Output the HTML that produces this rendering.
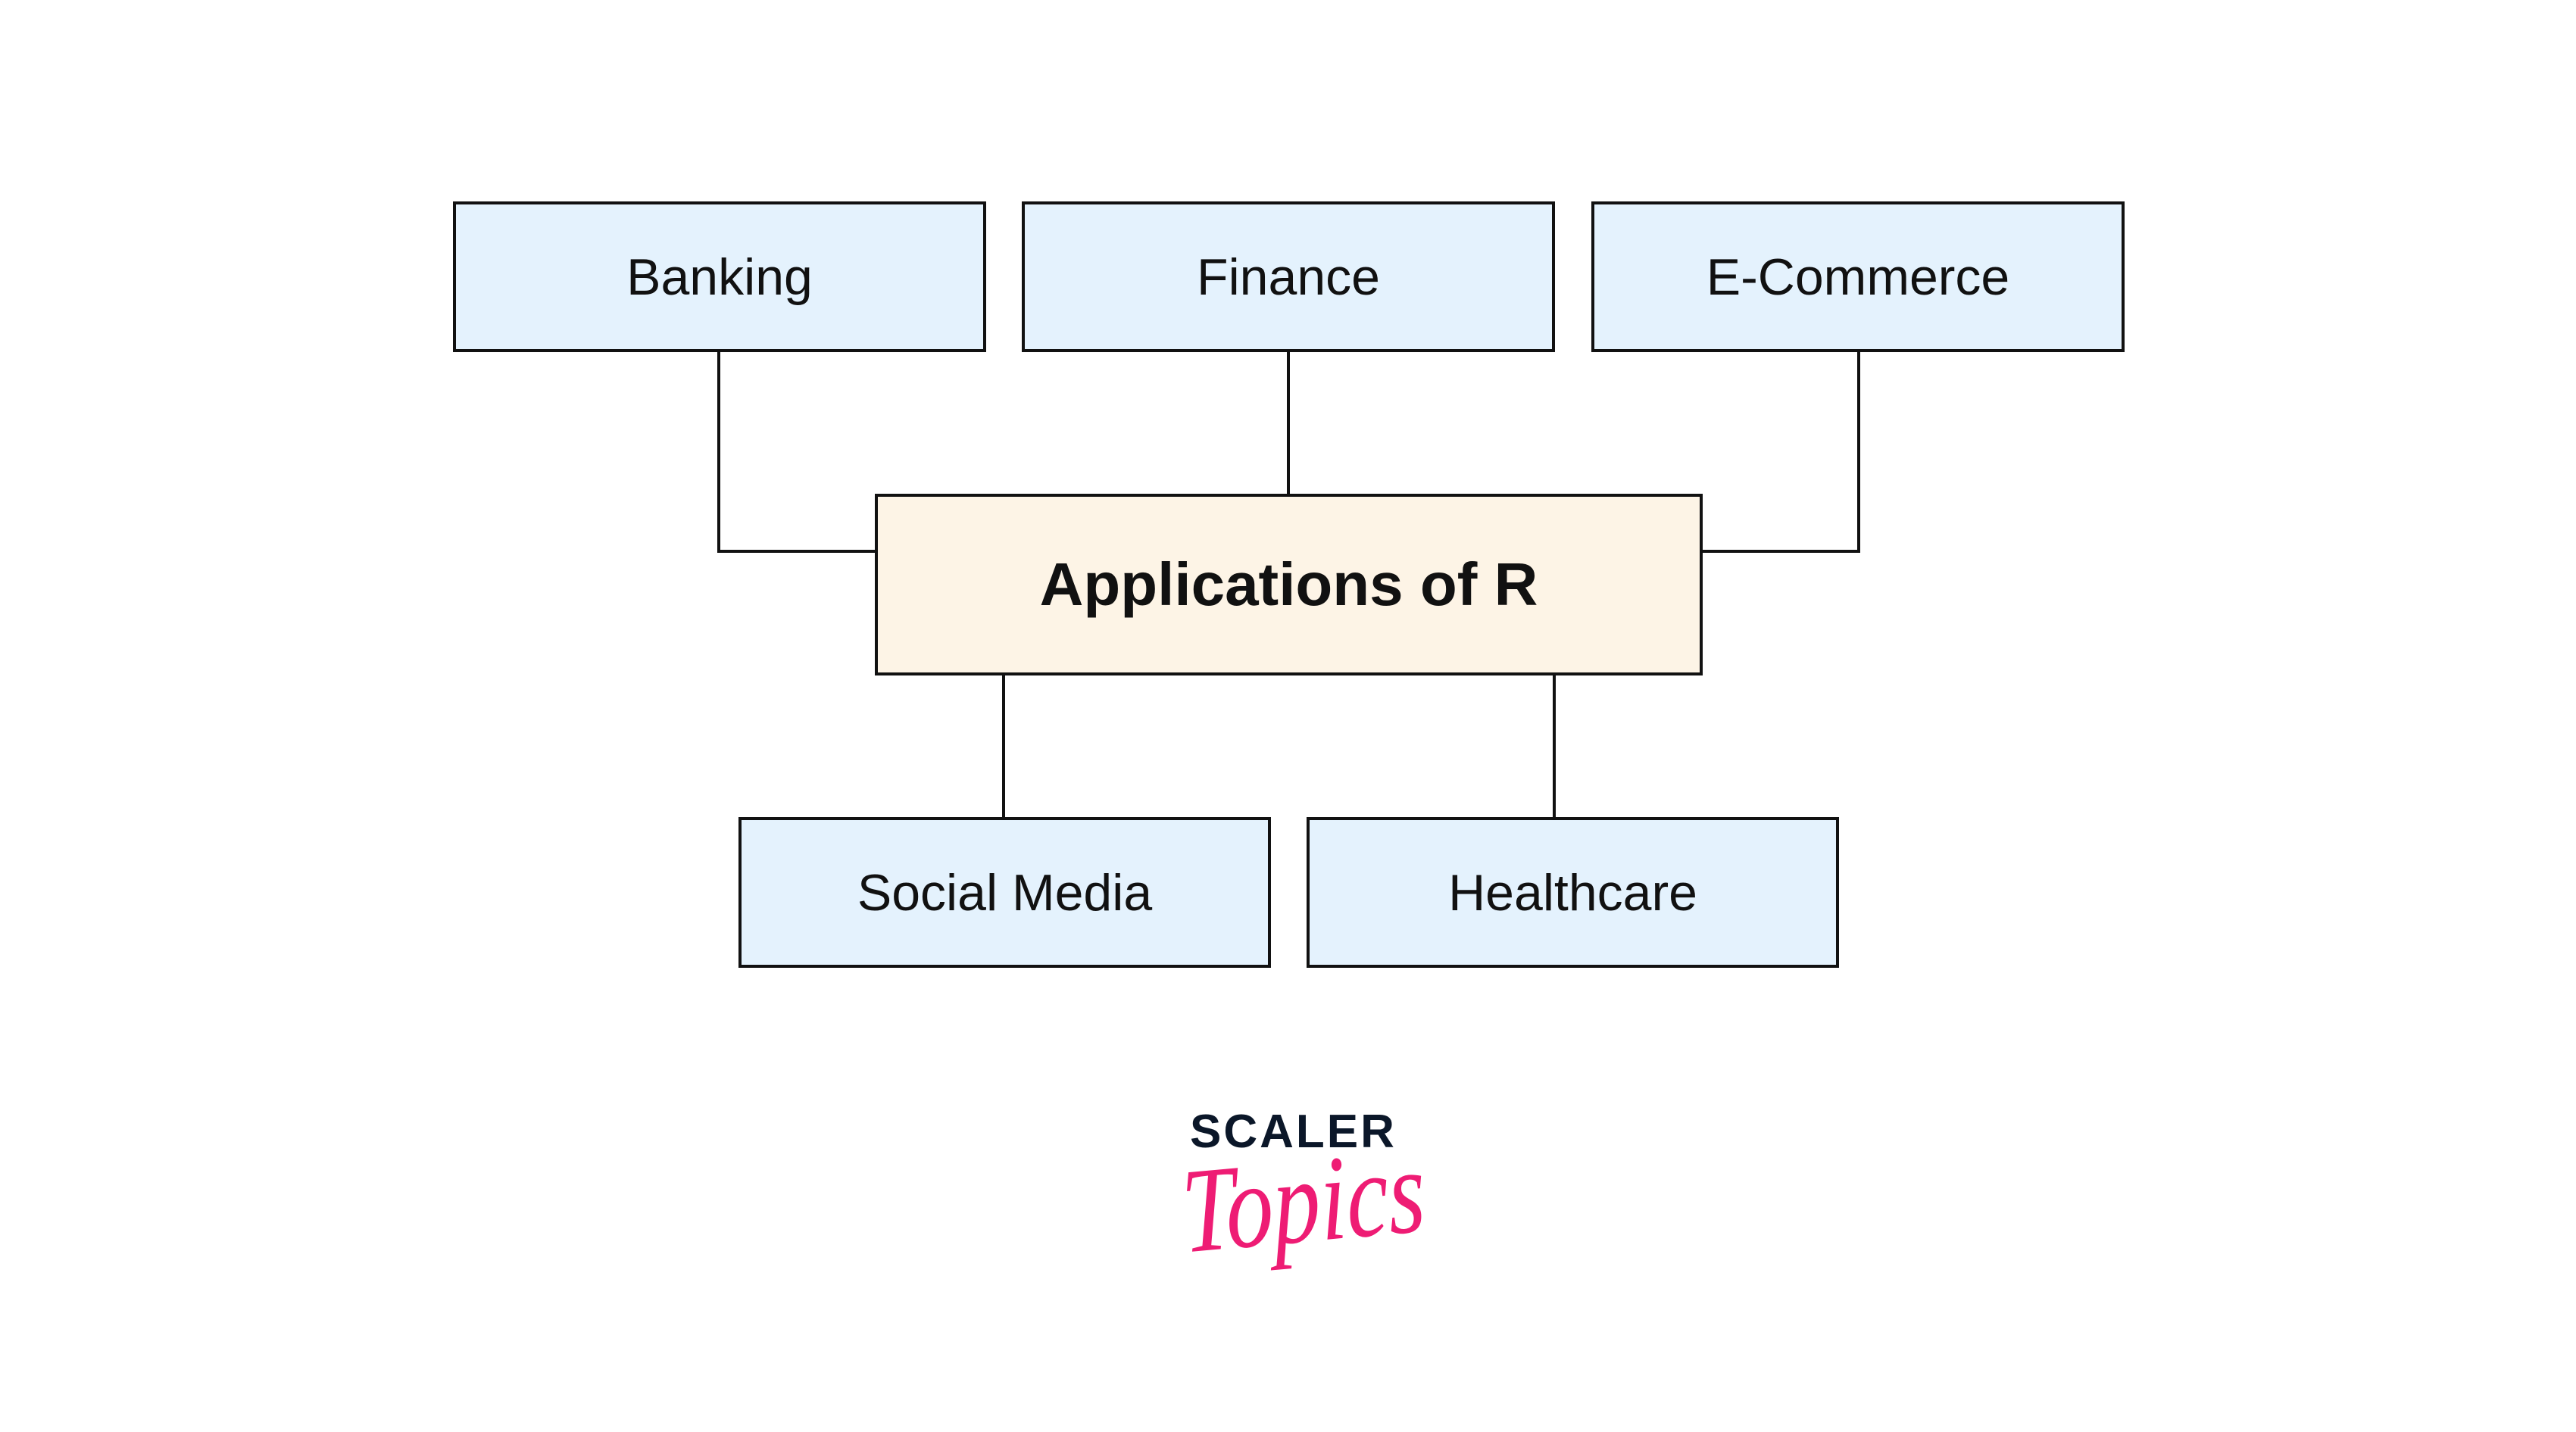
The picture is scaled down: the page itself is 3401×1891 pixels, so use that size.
<!DOCTYPE html>
<html><head><meta charset="utf-8"><style>
html,body{margin:0;padding:0;background:#fff;}
body{width:3401px;height:1891px;position:relative;overflow:hidden;font-family:"Liberation Sans",sans-serif;}
.b{position:absolute;box-sizing:border-box;border:4px solid #111;background:#e4f2fd;display:flex;align-items:center;justify-content:center;font-size:68px;color:#111;}
.c{background:#fdf4e6;font-weight:bold;font-size:80px;}
.l{position:absolute;background:#111;}
</style></head><body>
<div class="l" style="left:947px;top:460px;width:4px;height:270px"></div>
<div class="l" style="left:947px;top:726px;width:212px;height:4px"></div>
<div class="l" style="left:1699px;top:460px;width:4px;height:195px"></div>
<div class="l" style="left:2452px;top:460px;width:4px;height:270px"></div>
<div class="l" style="left:2243px;top:726px;width:213px;height:4px"></div>
<div class="l" style="left:1323px;top:888px;width:4px;height:194px"></div>
<div class="l" style="left:2050px;top:888px;width:4px;height:194px"></div>
<div class="b" style="left:598px;top:266px;width:704px;height:199px">Banking</div>
<div class="b" style="left:1349px;top:266px;width:704px;height:199px">Finance</div>
<div class="b" style="left:2101px;top:266px;width:704px;height:199px">E-Commerce</div>
<div class="b c" style="left:1155px;top:652px;width:1093px;height:240px">Applications of R</div>
<div class="b" style="left:975px;top:1079px;width:703px;height:199px">Social Media</div>
<div class="b" style="left:1725px;top:1079px;width:703px;height:199px">Healthcare</div>
<div style="position:absolute;left:1571px;top:1464px;width:300px;font-weight:bold;font-size:62px;letter-spacing:3px;color:#0b1729;line-height:62px">SCALER</div>
<div style="position:absolute;left:1556px;top:1520px;font-family:'Liberation Serif',serif;font-style:italic;font-size:160px;color:#ee1c74;line-height:160px;transform:scaleX(0.78) rotate(-4deg);transform-origin:left top">Topics</div>
</body></html>
